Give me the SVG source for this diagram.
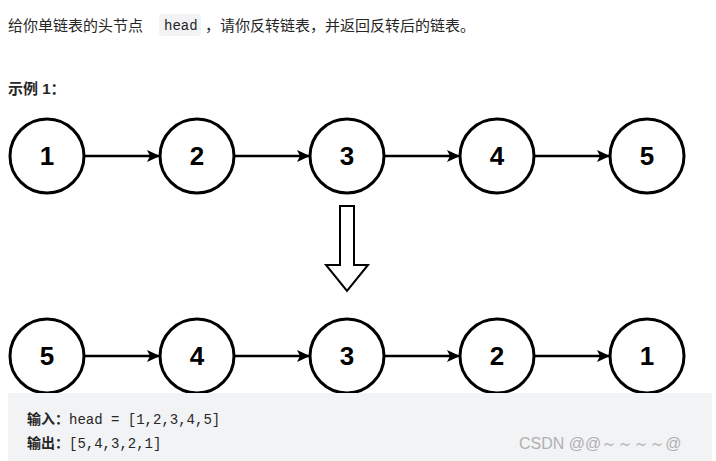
<svg xmlns="http://www.w3.org/2000/svg" width="716" height="461" viewBox="0 0 716 461">
<style>
.n circle{fill:#fff;stroke:#000;stroke-width:3}
.n text{font-family:"Liberation Sans",Arial,sans-serif;font-size:26px;font-weight:bold;text-anchor:middle}
.c line{stroke:#000;stroke-width:2.5;marker-end:url(#ah)}
.t{font-family:"Liberation Sans","Noto Sans CJK SC",sans-serif;font-size:15px;fill:#262626}
.m{font-family:"Liberation Mono","Noto Sans CJK SC",monospace;font-size:14px;fill:#262626}
</style>
<defs><marker id="ah" markerWidth="14" markerHeight="12" refX="13" refY="6" orient="auto" markerUnits="userSpaceOnUse"><path d="M0,0 L13,6 L0,12 L3,6 Z" fill="#000"/></marker></defs>
<rect width="716" height="461" fill="#fff"/>
<text class="t" x="8" y="31">给你单链表的头节点</text>
<rect x="159" y="14" width="42" height="22" rx="4" fill="#f2f3f5"/>
<text class="m" x="164" y="30" font-size="13">head</text>
<text class="t" x="205" y="31">，请你反转链表，并返回反转后的链表。</text>
<text class="t" x="8" y="94" font-weight="bold">示例 1：</text>
<g class="c">
<line x1="85" y1="156" x2="160" y2="156"/><line x1="235" y1="156" x2="310" y2="156"/><line x1="385" y1="156" x2="460" y2="156"/><line x1="535" y1="156" x2="610" y2="156"/>
<line x1="85" y1="356" x2="160" y2="356"/><line x1="235" y1="356" x2="310" y2="356"/><line x1="385" y1="356" x2="460" y2="356"/><line x1="535" y1="356" x2="610" y2="356"/>
</g>
<g id="a1" class="n"><circle cx="47" cy="156" r="37"/><text x="47" y="165">1</text></g>
<g id="a2" class="n"><circle cx="197" cy="156" r="37"/><text x="197" y="165">2</text></g>
<g id="a3" class="n"><circle cx="347" cy="156" r="37"/><text x="347" y="165">3</text></g>
<g id="a4" class="n"><circle cx="497" cy="156" r="37"/><text x="497" y="165">4</text></g>
<g id="a5" class="n"><circle cx="647" cy="156" r="37"/><text x="647" y="165">5</text></g>
<path d="M340,206 H354 V265 H368 L347,291 L326,265 H340 Z" fill="#fff" stroke="#000" stroke-width="2"/>
<g id="b1" class="n"><circle cx="47" cy="356" r="37"/><text x="47" y="365">5</text></g>
<g id="b2" class="n"><circle cx="197" cy="356" r="37"/><text x="197" y="365">4</text></g>
<g id="b3" class="n"><circle cx="347" cy="356" r="37"/><text x="347" y="365">3</text></g>
<g id="b4" class="n"><circle cx="497" cy="356" r="37"/><text x="497" y="365">2</text></g>
<g id="b5" class="n"><circle cx="647" cy="356" r="37"/><text x="647" y="365">1</text></g>
<rect x="8" y="393" width="704" height="68" fill="#f2f3f5"/>
<text class="m" x="27" y="424"><tspan font-weight="bold">输入：</tspan>head = [1,2,3,4,5]</text>
<text class="m" x="27" y="448"><tspan font-weight="bold">输出：</tspan>[5,4,3,2,1]</text>
<text x="519" y="449" font-family="Liberation Sans,sans-serif" font-size="16" fill="#b0b0b0">CSDN @@～～～～@</text>
</svg>
